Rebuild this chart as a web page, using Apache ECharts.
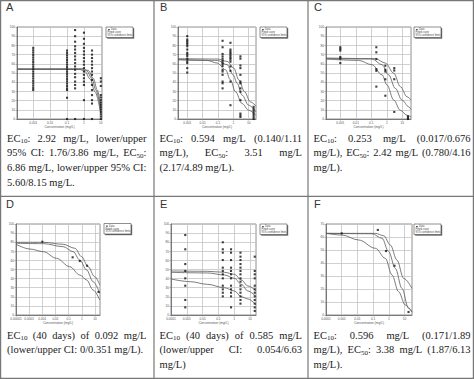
<!DOCTYPE html>
<html><head><meta charset="utf-8">
<script src="https://cdn.jsdelivr.net/npm/echarts@6/dist/echarts.min.js"></script>
<style>html,body{margin:0;padding:0;background:#fff}#c{width:474px;height:379px}</style>
</head><body><div id="c"></div>
<script>
// ---------------- DATA ----------------
// Panel A
const aConc = [0.001, 0.1, 0.3, 1, 3, 10];
const aVals = [
  [77.3,74.7,72.2,69.6,67.0,64.5,61.9,59.3,56.8,54.2,51.6,49.1,46.5,44.0,41.4,38.8,36.3,33.7,31.5],
  [74.4,71.8,69.2,66.7,64.1,61.5,59.0,56.4,53.8,51.3,48.7,46.2,43.6,41.0,38.5,35.9,33.3,31.5,23.1,0],
  [96.7,90,84,79,75.5,71.8,68.1,64.5,60.8,57.1,53.5,49.1,45.4,40.7,37.0,33.3,0],
  [93.8,87.2,81.7,77.3,73.6,70.0,66.3,62.6,59.0,55.3,51.6,48.0,44.3,40.7,37.0,20.5,0],
  [74.4,70.0,66.3,62.6,59.0,55.3,51.6,48.0,42.5,37.0,31.5,26.0,20.5,16.8,0],
  [44.3,40.7,35.9,26.0,23.4,20.5,17.9,15.4,12.8,10.3,7.7,5.1,2.6,0]
];
const aUpper = [[1.1e-4,54.6],[0.9,54.6],[1.8,52.7],[3.55,44.3],[6.2,31.5],[9.8,13.2]];
const aFit   = [[1.1e-4,54.2],[0.72,54.2],[1.45,52.4],[2.9,44.3],[5.1,31.5],[9.8,9.5]];
const aLower = [[1.1e-4,53.8],[0.58,53.8],[1.15,51.6],[2.3,43.6],[4.5,29.7],[9.8,5.9]];

// Panel B
const bConc = [0.001, 0.2, 0.65, 2.9, 21];
const bVals = [
  [90.1,86.4,84.6,82.8,81,79.1,75.5,71.8,70,68.1,65.2,62.6,60.8,55.3,50.5],
  [85,78,70.7,68.1,65.6,63.4,61.5,59.7,57.5,53.5,51.6,48,40.7,38.8,33.3],
  [82.8,75.5,73.6,71.8,70,68.1,66.3,64.5,62.3,57.1,52.4,40.7,15],
  [68.1,65.6,58.2,55.3,48,40.7,38.8,33.3,29.7,20.5,5.9,4,2.2],
  [13.2,11,8.8,6.6,4.4,2.2,0]
];
const bUpper = [[2.5e-4,65.6],[0.09,65.2],[0.4,62.6],[1.07,55.3],[2.3,42.5],[5.3,29.7],[12.9,18.7],[30,13.9]];
const bFit   = [[2.5e-4,64.5],[0.09,63.7],[0.4,59],[0.97,48],[1.78,38.8],[3.7,26],[10,15],[30,7.7]];
const bLower = [[2.5e-4,64.5],[0.02,63.7],[0.09,60.8],[0.31,53.5],[0.65,42.5],[1.37,29.7],[3.7,16.8],[10,9.5],[30,4]];

// Panel C
const cConc = [0.001, 0.21, 0.8, 3.0, 23];
const cVals = [
  [78,76.2,74.4,67.4,65.6,60.8],
  [78,72.5,65.2,54.2,52.4,35.2],
  [57.9,53.5,51.6,43.2,25.3],
  [55.3,52.7,43.2,7.7],
  [2.9,1.5,0]
];
const cUpper = [[1.2e-4,66.3],[0.18,65.6],[0.8,60.8],[2.8,49.8],[7.4,35.2],[20,24.2],[36,20.5]];
const cFit   = [[1.2e-4,65.6],[0.11,65.2],[0.49,59],[1.3,48],[3.5,33.3],[9.5,20.5],[26,13.2],[36,10.3]];
const cLower = [[1.2e-4,65.2],[0.015,63.7],[0.11,59],[0.49,48],[1.02,37],[2.8,20.5],[7.4,9.5],[20,4],[36,2.2]];

// Panel D
const dConc = [0.001, 0.2, 0.7, 2.5, 18.6];
const dVals = [[80.5],[63.4],[59.3],[54.2],[25.3]];
const dUpper = [[1e-5,79.9],[0.0012,79.9],[0.038,77.7],[0.3,73.3],[0.95,64.1],[3.0,53.1],[9.5,42.1],[23,33]];
const dFit   = [[1e-5,78.8],[0.0012,78.4],[0.038,75.1],[0.22,69.6],[0.7,60.4],[2.3,49.5],[7.2,36.6],[23,23.8]];
const dLower = [[1e-5,77.7],[1.15e-4,72.5],[0.0012,69.6],[0.012,62.3],[0.12,53.1],[0.7,44],[2.3,38.5],[7.2,27.5],[23,16.5]];

// Panel E
const eConc = [0.0008, 0.19, 0.63, 2.5, 20];
const eVals = [
  [87.9,72.2,56,48.4,40.3,32.2,16.5,8.4],
  [79.9,72.2,68.5,60.4,52,48.4,44.7,40.3,32.2,28.2,24.5,20.5],
  [72.2,68.5,60.4,52,48.4,44.7,40.3,32.2,28.2,24.5,20.5,8.4],
  [68.5,64.1,60.4,56,52,48.4,44.7,40.3,36.6,32.2,28.2,24.5,20.5,16.5,12.5],
  [64.1,48.4,44.7,40.3,32.2,28.2,24.5,20.5,16.5,12.5,8.4,4.4]
];
const eUpper = [[1e-4,48.4],[0.02,48],[0.24,46.9],[1.05,44.7],[2.8,38.5],[7.4,31.9],[24,26.4]];
const eFit   = [[1e-4,46.9],[0.02,46.2],[0.24,44],[1.05,40.3],[2.8,33.7],[7.4,26.4],[24,20.1]];
const eLower = [[1e-4,39.6],[0.0017,36.6],[0.02,33.7],[0.24,30],[1.05,26.4],[2.8,20.1],[7.4,17.6],[24,11]];

// Panel F
const fConc = [0.001, 0.2, 0.66, 2.3, 18];
const fVals = [[62.8],[65.4],[49.2],[37.9],[2.3]];
const fUpper = [[1e-4,62.8],[0.14,62.8],[0.47,61],[1.26,53.8],[3.3,42.3],[8.8,28.2],[30,20.5]];
const fFit   = [[1e-4,62.8],[0.085,62.5],[0.37,59],[0.98,48.7],[2.6,35.9],[6.9,20.5],[18,5.1],[30,2.6]];
const fLower = [[1e-4,62.8],[0.00105,61.5],[0.012,57.7],[0.14,51.3],[0.6,43.6],[1.6,30.8],[4.2,17.9],[11.2,7.7],[30,2.1]];

// Texts
const panelLetters = ['A','B','C','D','E','F'];
const legendTexts = ['Data','Fitted curve','95% confidence limits'];
const xAxisTitle = 'Concentration (mg/L)';
const aText = ['EC_10: 2.92 mg/L, lower/upper','95% CI: 1.76/3.86 mg/L, EC_50:','6.86 mg/L, lower/upper 95% CI:','5.60/8.15 mg/L.'];
const bText = ['EC_10: 0.594 mg/L (0.140/1.11','mg/L), EC_50: 3.51 mg/L','(2.17/4.89 mg/L).'];
const cText = ['EC_10: 0.253 mg/L (0.017/0.676','mg/L), EC_50: 2.42 mg/L (0.780/4.16','mg/L).'];
const dText = ['EC_10 (40 days) of 0.092 mg/L','(lower/upper CI: 0/0.351 mg/L).'];
const eText = ['EC_10 (40 days) of 0.585 mg/L','(lower/upper CI: 0.054/6.63','mg/L)'];
const fText = ['EC_10: 0.596 mg/L (0.171/1.89','mg/L), EC_50: 3.38 mg/L (1.87/6.13','mg/L).'];

// ---------------- LAYOUT ----------------
const panels = [
  {conc:aConc, vals:aVals, up:aUpper, fit:aFit, low:aLower, text:aText, L:17, T:27, W:85, H:92, xmin:1.1e-4, xmax:11.7, ymax:100, yint:10, showMin:false, letter:[6,7], legend:[106,27], tx:[7,146.5], ty:138.3},
  {conc:bConc, vals:bVals, up:bUpper, fit:bFit, low:bLower, text:bText, L:178, T:27, W:78, H:92, xmin:2.5e-4, xmax:30, ymax:100, yint:10, showMin:false, letter:[160,7], legend:[260,27], tx:[159.5,302], ty:138.3},
  {conc:cConc, vals:cVals, up:cUpper, fit:cFit, low:cLower, text:cText, L:326, T:27, W:85, H:92, xmin:1.2e-4, xmax:36, ymax:100, yint:10, showMin:false, letter:[314,7], legend:[414,27], tx:[313.5,470.5], ty:138.3},
  {conc:dConc, vals:dVals, up:dUpper, fit:dFit, low:dLower, text:dText, L:16, T:224, W:84, H:91, xmin:1e-5, xmax:24, ymax:100, yint:10, showMin:true, letter:[6,204], legend:[104,223.5], tx:[7,146.5], ty:335.3},
  {conc:eConc, vals:eVals, up:eUpper, fit:eFit, low:eLower, text:eText, L:171, T:224, W:85, H:91, xmin:1e-4, xmax:24, ymax:100, yint:10, showMin:true, letter:[160,204], legend:[260,224], tx:[159.5,302], ty:335.3},
  {conc:fConc, vals:fVals, up:fUpper, fit:fFit, low:fLower, text:fText, L:326, T:224, W:86, H:91, xmin:1e-4, xmax:30, ymax:70, yint:10, showMin:true, letter:[314,204], legend:[414,224], tx:[313.5,470.5], ty:335.3}
];

const FS = 10.5, SUBFS = 7, LH = 14.6;
const SERIF = "'Liberation Serif','Times New Roman',serif";
const ctx = document.createElement('canvas').getContext('2d');
function tw(s, size){ ctx.font = size + 'px ' + SERIF; return ctx.measureText(s).width; }
function segs(word){
  const m = word.match(/^(.*?)_(\d+)(.*)$/);
  if (!m) return [{t:word, sub:false}];
  return [{t:m[1],sub:false},{t:m[2],sub:true},{t:m[3],sub:false}].filter(s => s.t.length);
}
function wordW(word){ return segs(word).reduce((a,s)=>a + tw(s.t, s.sub?SUBFS:FS), 0); }

function fmtLog(v){
  const d = Math.max(0, -Math.round(Math.log10(v)));
  return v.toFixed(d);
}

const grid = [], xAxis = [], yAxis = [], series = [], graphic = [];
const small = {fontSize:3.2, color:'#555', fontFamily:'Liberation Sans'};

panels.forEach((p, i) => {
  grid.push({left:p.L, top:p.T, width:p.W, height:p.H, show:true, borderColor:'#777', borderWidth:0.8, containLabel:false});
  xAxis.push({type:'log', logBase:10, gridIndex:i, min:p.xmin, max:p.xmax, splitNumber:6,
    axisLine:{show:true, onZero:false, lineStyle:{color:'#666', width:0.8}},
    axisTick:{show:true, length:1.5, lineStyle:{color:'#777', width:0.5}},
    axisLabel:Object.assign({margin:2, showMinLabel:p.showMin, showMaxLabel:false, formatter:fmtLog}, small),
    splitLine:{show:true, lineStyle:{color:'#c4c4c4', width:0.8}},
    minorTick:{show:false}, minorSplitLine:{show:false},
    name:xAxisTitle, nameLocation:'middle', nameGap:6, nameTextStyle:small});
  yAxis.push({type:'value', gridIndex:i, min:0, max:p.ymax, interval:p.yint,
    axisLine:{show:true, onZero:false, lineStyle:{color:'#666', width:0.8}},
    axisTick:{show:true, length:1.5, lineStyle:{color:'#777', width:0.5}},
    axisLabel:Object.assign({margin:2}, small),
    splitLine:{show:true, lineStyle:{color:'#c4c4c4', width:0.8}}});
  const pts = [];
  p.conc.forEach((c, k) => p.vals[k].forEach(v => pts.push([c, v])));
  series.push({type:'scatter', xAxisIndex:i, yAxisIndex:i, data:pts, symbol:'rect', symbolSize:2.1,
    itemStyle:{color:'#111'}, silent:true, z:5});
  [p.up, p.fit, p.low].forEach(curve => series.push({type:'line', xAxisIndex:i, yAxisIndex:i, data:curve,
    showSymbol:false, smooth:0.35, smoothMonotone:'x', lineStyle:{color:'#5a5a5a', width:0.8}, silent:true, z:4}));

  // panel letter
  graphic.push({type:'text', x:p.letter[0], y:p.letter[1], style:{text:panelLetters[i], fontSize:11,
    fontFamily:'Liberation Sans', fill:'#333', align:'left', verticalAlign:'middle', textAlign:'left', textVerticalAlign:'middle'}});

  // legend box
  const lx = p.legend[0], ly = p.legend[1], lw = 27, lh = 10.5;
  graphic.push({type:'rect', shape:{x:lx+1.2, y:ly+1.2, width:lw, height:lh}, style:{fill:'#6a6a6a'}, z:10});
  graphic.push({type:'rect', shape:{x:lx, y:ly, width:lw, height:lh}, style:{fill:'#fff', stroke:'#444', lineWidth:0.6}, z:11});
  graphic.push({type:'rect', shape:{x:lx+2.3, y:ly+1.9, width:1.3, height:1.3}, style:{fill:'#111'}, z:12});
  legendTexts.forEach((t, k) => {
    graphic.push({type:'text', x:lx + (k===0?5:1.5), y:ly + 2.6 + k*2.9, z:12,
      style:{text:t, fontSize:2.6, fontFamily:'Liberation Sans', fill:'#444', align:'left', verticalAlign:'middle', textAlign:'left', textVerticalAlign:'middle'}});
  });

  // caption text, justified
  const x0 = p.tx[0], x1 = p.tx[1];
  p.text.forEach((line, li) => {
    const words = line.split(' ');
    const ws = words.map(wordW);
    const tot = ws.reduce((a,b)=>a+b, 0);
    const justify = li < p.text.length - 1 && words.length > 1;
    const gap = justify ? (x1 - x0 - tot) / (words.length - 1) : tw(' ', FS);
    let x = x0;
    const y = p.ty + li * LH;
    words.forEach(wd => {
      segs(wd).forEach(s => {
        const size = s.sub ? SUBFS : FS;
        graphic.push({type:'text', x:x, y: s.sub ? y + 3 : y,
          style:{text:s.t, fontSize:size, fontFamily:SERIF, fill:'#1a1a1a', align:'left', verticalAlign:'middle', textAlign:'left', textVerticalAlign:'middle'}});
        x += tw(s.t, size);
      });
      x += gap;
    });
  });
});

// frame & dividers
const frameStyle = {stroke:'#777', lineWidth:1.2};
graphic.push({type:'rect', shape:{x:0.6, y:0.6, width:472.8, height:377.8}, style:{fill:null, stroke:'#777', lineWidth:1.2}});
graphic.push({type:'line', shape:{x1:154, y1:0, x2:154, y2:379}, style:frameStyle});
graphic.push({type:'line', shape:{x1:308, y1:0, x2:308, y2:379}, style:frameStyle});
graphic.push({type:'line', shape:{x1:0, y1:196.3, x2:474, y2:196.3}, style:frameStyle});

const chart = echarts.init(document.getElementById('c'), null, {renderer:'svg'});
chart.setOption({animation:false, backgroundColor:'#fff', grid, xAxis, yAxis, series, graphic});
</script></body></html>
